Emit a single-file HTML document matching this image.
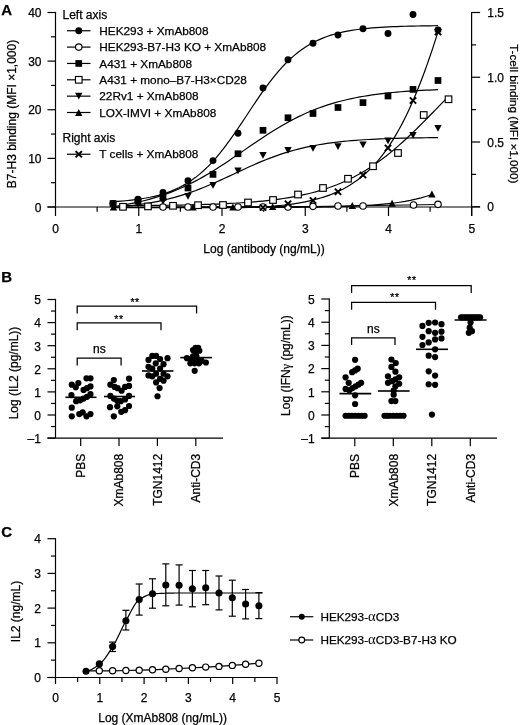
<!DOCTYPE html>
<html lang="en"><head><meta charset="utf-8"><title>Figure</title>
<style>
html,body{margin:0;padding:0;background:#fff;}
body{width:520px;height:725px;overflow:hidden;}
svg{display:block;font-family:"Liberation Sans",sans-serif;fill:#000;}
svg text{fill:#000;stroke:#000;stroke-width:0.25px;}
</style></head><body>
<svg width="520" height="725" viewBox="0 0 520 725">
<rect width="520" height="725" fill="#fff"/>
<text x="1.2" y="15.1" font-size="15" text-anchor="start" font-weight="bold" >A</text>
<line x1="55.5" y1="11.9" x2="55.5" y2="207" stroke="#000" stroke-width="1.2" />
<line x1="47.5" y1="207" x2="55.5" y2="207" stroke="#000" stroke-width="1.2" />
<line x1="51" y1="182.69" x2="55.5" y2="182.69" stroke="#000" stroke-width="1.2" />
<line x1="47.5" y1="158.38" x2="55.5" y2="158.38" stroke="#000" stroke-width="1.2" />
<line x1="51" y1="134.06" x2="55.5" y2="134.06" stroke="#000" stroke-width="1.2" />
<line x1="47.5" y1="109.75" x2="55.5" y2="109.75" stroke="#000" stroke-width="1.2" />
<line x1="51" y1="85.44" x2="55.5" y2="85.44" stroke="#000" stroke-width="1.2" />
<line x1="47.5" y1="61.12" x2="55.5" y2="61.12" stroke="#000" stroke-width="1.2" />
<line x1="51" y1="36.81" x2="55.5" y2="36.81" stroke="#000" stroke-width="1.2" />
<line x1="47.5" y1="12.5" x2="55.5" y2="12.5" stroke="#000" stroke-width="1.2" />
<text x="41.5" y="211.6" font-size="12" text-anchor="end" >0</text>
<text x="41.5" y="162.97" font-size="12" text-anchor="end" >10</text>
<text x="41.5" y="114.35" font-size="12" text-anchor="end" >20</text>
<text x="41.5" y="65.72" font-size="12" text-anchor="end" >30</text>
<text x="41.5" y="17.1" font-size="12" text-anchor="end" >40</text>
<line x1="47.5" y1="207" x2="480.1" y2="207" stroke="#000" stroke-width="1.2" />
<line x1="55.5" y1="207" x2="55.5" y2="216" stroke="#000" stroke-width="1.2" />
<line x1="97.12" y1="207" x2="97.12" y2="211.8" stroke="#000" stroke-width="1.2" />
<line x1="138.75" y1="207" x2="138.75" y2="216" stroke="#000" stroke-width="1.2" />
<line x1="180.38" y1="207" x2="180.38" y2="211.8" stroke="#000" stroke-width="1.2" />
<line x1="222" y1="207" x2="222" y2="216" stroke="#000" stroke-width="1.2" />
<line x1="263.62" y1="207" x2="263.62" y2="211.8" stroke="#000" stroke-width="1.2" />
<line x1="305.25" y1="207" x2="305.25" y2="216" stroke="#000" stroke-width="1.2" />
<line x1="346.88" y1="207" x2="346.88" y2="211.8" stroke="#000" stroke-width="1.2" />
<line x1="388.5" y1="207" x2="388.5" y2="216" stroke="#000" stroke-width="1.2" />
<line x1="430.12" y1="207" x2="430.12" y2="211.8" stroke="#000" stroke-width="1.2" />
<line x1="471.75" y1="207" x2="471.75" y2="216" stroke="#000" stroke-width="1.2" />
<text x="55.5" y="233.3" font-size="12" text-anchor="middle" >0</text>
<text x="138.75" y="233.3" font-size="12" text-anchor="middle" >1</text>
<text x="222" y="233.3" font-size="12" text-anchor="middle" >2</text>
<text x="305.25" y="233.3" font-size="12" text-anchor="middle" >3</text>
<text x="388.5" y="233.3" font-size="12" text-anchor="middle" >4</text>
<text x="471.75" y="233.3" font-size="12" text-anchor="middle" >5</text>
<text x="264" y="252.5" font-size="12" text-anchor="middle" >Log (antibody (ng/mL))</text>
<line x1="471.6" y1="11.9" x2="471.6" y2="216" stroke="#000" stroke-width="1.2" />
<line x1="471.6" y1="206.75" x2="480.1" y2="206.75" stroke="#000" stroke-width="1.2" />
<line x1="471.6" y1="174.38" x2="476.1" y2="174.38" stroke="#000" stroke-width="1.2" />
<line x1="471.6" y1="142" x2="480.1" y2="142" stroke="#000" stroke-width="1.2" />
<line x1="471.6" y1="109.62" x2="476.1" y2="109.62" stroke="#000" stroke-width="1.2" />
<line x1="471.6" y1="77.25" x2="480.1" y2="77.25" stroke="#000" stroke-width="1.2" />
<line x1="471.6" y1="44.88" x2="476.1" y2="44.88" stroke="#000" stroke-width="1.2" />
<line x1="471.6" y1="12.5" x2="480.1" y2="12.5" stroke="#000" stroke-width="1.2" />
<text x="487.3" y="211.45" font-size="12" text-anchor="start" >0</text>
<text x="487.3" y="146.7" font-size="12" text-anchor="start" >0.5</text>
<text x="487.3" y="81.95" font-size="12" text-anchor="start" >1.0</text>
<text x="487.3" y="17.2" font-size="12" text-anchor="start" >1.5</text>
<text x="15.8" y="114" font-size="12" text-anchor="middle" transform="rotate(-90 15.8 114)" >B7-H3 binding (MFI ×1,000)</text>
<text x="510.3" y="113.8" font-size="11.7" text-anchor="middle" transform="rotate(90 510.3 113.8)" >T-cell binding (MFI ×1,000)</text>
<path d="M113 201.68 L117.11 201.41 L121.23 201.09 L125.34 200.74 L129.46 200.33 L133.57 199.87 L137.68 199.33 L141.8 198.72 L145.91 198.03 L150.03 197.24 L154.14 196.33 L158.25 195.3 L162.37 194.14 L166.48 192.81 L170.59 191.32 L174.71 189.63 L178.82 187.73 L182.94 185.6 L187.05 183.21 L191.16 180.55 L195.28 177.61 L199.39 174.35 L203.51 170.77 L207.62 166.87 L211.73 162.62 L215.85 158.04 L219.96 153.14 L224.08 147.93 L228.19 142.44 L232.3 136.71 L236.42 130.77 L240.53 124.67 L244.65 118.48 L248.76 112.25 L252.87 106.04 L256.99 99.91 L261.1 93.92 L265.22 88.12 L269.33 82.56 L273.44 77.26 L277.56 72.27 L281.67 67.6 L285.78 63.26 L289.9 59.26 L294.01 55.59 L298.13 52.24 L302.24 49.2 L306.35 46.47 L310.47 44.01 L314.58 41.8 L318.7 39.84 L322.81 38.09 L326.92 36.54 L331.04 35.17 L335.15 33.96 L339.27 32.89 L343.38 31.96 L347.49 31.13 L351.61 30.41 L355.72 29.78 L359.84 29.23 L363.95 28.74 L368.06 28.32 L372.18 27.95 L376.29 27.63 L380.41 27.34 L384.52 27.1 L388.63 26.89 L392.75 26.7 L396.86 26.54 L400.97 26.4 L405.09 26.27 L409.2 26.17 L413.32 26.07 L417.43 25.99 L421.54 25.92 L425.66 25.86 L429.77 25.81 L433.89 25.76 L438 25.72" fill="none" stroke="#000" stroke-width="1.2" />
<path d="M113 206.59 L117.11 205.99 L121.23 205.35 L125.34 204.65 L129.46 203.89 L133.57 203.08 L137.68 202.2 L141.8 201.25 L145.91 200.23 L150.03 199.13 L154.14 197.95 L158.25 196.69 L162.37 195.35 L166.48 193.91 L170.59 192.38 L174.71 190.75 L178.82 189.03 L182.94 187.21 L187.05 185.28 L191.16 183.26 L195.28 181.15 L199.39 178.93 L203.51 176.62 L207.62 174.23 L211.73 171.75 L215.85 169.19 L219.96 166.57 L224.08 163.88 L228.19 161.14 L232.3 158.36 L236.42 155.55 L240.53 152.72 L244.65 149.88 L248.76 147.04 L252.87 144.22 L256.99 141.42 L261.1 138.66 L265.22 135.95 L269.33 133.29 L273.44 130.7 L277.56 128.18 L281.67 125.75 L285.78 123.4 L289.9 121.14 L294.01 118.97 L298.13 116.91 L302.24 114.94 L306.35 113.07 L310.47 111.3 L314.58 109.63 L318.7 108.05 L322.81 106.57 L326.92 105.18 L331.04 103.88 L335.15 102.66 L339.27 101.53 L343.38 100.47 L347.49 99.49 L351.61 98.57 L355.72 97.73 L359.84 96.94 L363.95 96.22 L368.06 95.55 L372.18 94.93 L376.29 94.36 L380.41 93.83 L384.52 93.35 L388.63 92.9 L392.75 92.49 L396.86 92.12 L400.97 91.77 L405.09 91.45 L409.2 91.16 L413.32 90.89 L417.43 90.65 L421.54 90.42 L425.66 90.21 L429.77 90.03 L433.89 89.85 L438 89.69" fill="none" stroke="#000" stroke-width="1.2" />
<path d="M113 207.33 L117.11 207 L121.23 206.63 L125.34 206.23 L129.46 205.78 L133.57 205.3 L137.68 204.77 L141.8 204.19 L145.91 203.55 L150.03 202.86 L154.14 202.11 L158.25 201.3 L162.37 200.42 L166.48 199.47 L170.59 198.44 L174.71 197.35 L178.82 196.17 L182.94 194.92 L187.05 193.59 L191.16 192.18 L195.28 190.7 L199.39 189.14 L203.51 187.51 L207.62 185.82 L211.73 184.07 L215.85 182.26 L219.96 180.41 L224.08 178.53 L228.19 176.62 L232.3 174.7 L236.42 172.77 L240.53 170.85 L244.65 168.94 L248.76 167.06 L252.87 165.21 L256.99 163.42 L261.1 161.67 L265.22 159.99 L269.33 158.37 L273.44 156.82 L277.56 155.34 L281.67 153.94 L285.78 152.62 L289.9 151.38 L294.01 150.21 L298.13 149.12 L302.24 148.11 L306.35 147.17 L310.47 146.29 L314.58 145.49 L318.7 144.74 L322.81 144.06 L326.92 143.43 L331.04 142.86 L335.15 142.33 L339.27 141.85 L343.38 141.41 L347.49 141.01 L351.61 140.65 L355.72 140.32 L359.84 140.02 L363.95 139.75 L368.06 139.5 L372.18 139.28 L376.29 139.08 L380.41 138.89 L384.52 138.73 L388.63 138.58 L392.75 138.44 L396.86 138.32 L400.97 138.21 L405.09 138.11 L409.2 138.02 L413.32 137.94 L417.43 137.87 L421.54 137.8 L425.66 137.74 L429.77 137.69 L433.89 137.64 L438 137.59" fill="none" stroke="#000" stroke-width="1.2" />
<path d="M123 205.69 L127.11 205.66 L131.23 205.64 L135.34 205.61 L139.46 205.58 L143.57 205.54 L147.68 205.51 L151.8 205.47 L155.91 205.42 L160.03 205.38 L164.14 205.32 L168.25 205.27 L172.37 205.2 L176.48 205.14 L180.59 205.06 L184.71 204.98 L188.82 204.9 L192.94 204.8 L197.05 204.7 L201.16 204.59 L205.28 204.46 L209.39 204.33 L213.51 204.18 L217.62 204.03 L221.73 203.85 L225.85 203.67 L229.96 203.46 L234.08 203.24 L238.19 203 L242.3 202.74 L246.42 202.45 L250.53 202.14 L254.65 201.81 L258.76 201.44 L262.87 201.05 L266.99 200.62 L271.1 200.15 L275.22 199.64 L279.33 199.09 L283.44 198.5 L287.56 197.85 L291.67 197.15 L295.78 196.4 L299.9 195.58 L304.01 194.7 L308.13 193.75 L312.24 192.72 L316.35 191.61 L320.47 190.42 L324.58 189.14 L328.7 187.76 L332.81 186.28 L336.92 184.7 L341.04 183.01 L345.15 181.2 L349.27 179.27 L353.38 177.21 L357.49 175.03 L361.61 172.71 L365.72 170.26 L369.84 167.67 L373.95 164.93 L378.06 162.06 L382.18 159.05 L386.29 155.9 L390.41 152.61 L394.52 149.19 L398.63 145.64 L402.75 141.97 L406.86 138.19 L410.97 134.31 L415.09 130.34 L419.2 126.28 L423.32 122.17 L427.43 118 L431.54 113.79 L435.66 109.56 L439.77 105.32 L443.89 101.09 L448 96.89" fill="none" stroke="#000" stroke-width="1.2" />
<path d="M263 207 L265.22 206.85 L267.43 206.68 L269.65 206.51 L271.86 206.33 L274.08 206.14 L276.29 205.93 L278.51 205.72 L280.72 205.49 L282.94 205.24 L285.15 204.98 L287.37 204.71 L289.58 204.42 L291.8 204.12 L294.01 203.79 L296.23 203.45 L298.44 203.08 L300.66 202.7 L302.87 202.29 L305.09 201.86 L307.3 201.4 L309.52 200.91 L311.73 200.4 L313.95 199.86 L316.16 199.28 L318.38 198.68 L320.59 198.03 L322.81 197.35 L325.03 196.63 L327.24 195.87 L329.46 195.07 L331.67 194.22 L333.89 193.32 L336.1 192.37 L338.32 191.37 L340.53 190.31 L342.75 189.19 L344.96 188.01 L347.18 186.76 L349.39 185.44 L351.61 184.05 L353.82 182.59 L356.04 181.05 L358.25 179.42 L360.47 177.7 L362.68 175.9 L364.9 174 L367.11 172 L369.33 169.89 L371.54 167.68 L373.76 165.36 L375.97 162.91 L378.19 160.35 L380.41 157.66 L382.62 154.84 L384.84 151.88 L387.05 148.79 L389.27 145.55 L391.48 142.16 L393.7 138.62 L395.91 134.92 L398.13 131.06 L400.34 127.04 L402.56 122.85 L404.77 118.48 L406.99 113.95 L409.2 109.24 L411.42 104.35 L413.63 99.28 L415.85 94.03 L418.06 88.6 L420.28 82.99 L422.49 77.21 L424.71 71.24 L426.92 65.11 L429.14 58.8 L431.35 52.32 L433.57 45.68 L435.78 38.89 L438 31.95" fill="none" stroke="#000" stroke-width="1.2" />
<path d="M163 207 L313 206.5 L438 204.5" fill="none" stroke="#000" stroke-width="1.2" />
<path d="M113.5 207.6 L118.9 207.6 L124.29 207.6 L129.69 207.6 L135.09 207.6 L140.48 207.6 L145.88 207.6 L151.28 207.59 L156.67 207.59 L162.07 207.59 L167.47 207.59 L172.86 207.59 L178.26 207.59 L183.66 207.59 L189.05 207.58 L194.45 207.58 L199.85 207.58 L205.24 207.58 L210.64 207.57 L216.04 207.57 L221.43 207.56 L226.83 207.55 L232.23 207.55 L237.62 207.54 L243.02 207.53 L248.42 207.52 L253.81 207.5 L259.21 207.49 L264.61 207.47 L270 207.45 L275.4 207.43 L280.79 207.4 L286.19 207.37 L291.59 207.33 L296.98 207.29 L302.38 207.23 L307.78 207.18 L313.17 207.11 L318.57 207.03 L323.97 206.94 L329.36 206.83 L334.76 206.71 L340.16 206.56 L345.55 206.39 L350.95 206.2 L356.35 205.97 L361.74 205.71 L367.14 205.41 L372.54 205.06 L377.93 204.65 L383.33 204.17 L388.73 203.62 L394.12 202.98 L399.52 202.23 L404.92 201.37 L410.31 200.37 L415.71 199.2 L421.11 197.85 L426.5 196.28 L431.9 194.46" fill="none" stroke="#000" stroke-width="1.2" />
<circle cx="113" cy="203.75" r="3.45" fill="#000"/>
<circle cx="138" cy="199.25" r="3.45" fill="#000"/>
<circle cx="163" cy="192.5" r="3.45" fill="#000"/>
<circle cx="188" cy="180.75" r="3.45" fill="#000"/>
<circle cx="213" cy="160.6" r="3.45" fill="#000"/>
<circle cx="238" cy="133.25" r="3.45" fill="#000"/>
<circle cx="263" cy="88" r="3.45" fill="#000"/>
<circle cx="288" cy="59.75" r="3.45" fill="#000"/>
<circle cx="313" cy="43.25" r="3.45" fill="#000"/>
<circle cx="338" cy="35" r="3.45" fill="#000"/>
<circle cx="363" cy="28.75" r="3.45" fill="#000"/>
<circle cx="388" cy="33.5" r="3.45" fill="#000"/>
<circle cx="413" cy="14.5" r="3.45" fill="#000"/>
<circle cx="438" cy="30" r="3.45" fill="#000"/>
<polygon points="109.8,210.4 117.2,210.4 113.5,203.6" fill="#000"/>
<polygon points="189.4,210.4 196.8,210.4 193.1,203.6" fill="#000"/>
<polygon points="229.2,210.4 236.6,210.4 232.9,203.6" fill="#000"/>
<polygon points="269,210.1 276.4,210.1 272.7,203.3" fill="#000"/>
<polygon points="348.6,208.9 356,208.9 352.3,202.1" fill="#000"/>
<polygon points="388.4,206.65 395.8,206.65 392.1,199.85" fill="#000"/>
<polygon points="428.2,197.4 435.6,197.4 431.9,190.6" fill="#000"/>
<circle cx="163" cy="207" r="3.25" fill="#fff" stroke="#000" stroke-width="1.15"/>
<circle cx="188" cy="207" r="3.25" fill="#fff" stroke="#000" stroke-width="1.15"/>
<circle cx="213" cy="207" r="3.25" fill="#fff" stroke="#000" stroke-width="1.15"/>
<circle cx="238" cy="207" r="3.25" fill="#fff" stroke="#000" stroke-width="1.15"/>
<circle cx="263" cy="207" r="3.25" fill="#fff" stroke="#000" stroke-width="1.15"/>
<circle cx="288" cy="207" r="3.25" fill="#fff" stroke="#000" stroke-width="1.15"/>
<circle cx="313" cy="206.3" r="3.25" fill="#fff" stroke="#000" stroke-width="1.15"/>
<circle cx="338" cy="206" r="3.25" fill="#fff" stroke="#000" stroke-width="1.15"/>
<circle cx="363" cy="206" r="3.25" fill="#fff" stroke="#000" stroke-width="1.15"/>
<circle cx="413.5" cy="205" r="3.25" fill="#fff" stroke="#000" stroke-width="1.15"/>
<circle cx="438" cy="204.3" r="3.25" fill="#fff" stroke="#000" stroke-width="1.15"/>
<rect x="109.65" y="200.15" width="6.7" height="6.7" fill="#000"/>
<rect x="134.65" y="197.65" width="6.7" height="6.7" fill="#000"/>
<rect x="159.65" y="194.15" width="6.7" height="6.7" fill="#000"/>
<rect x="184.65" y="184.65" width="6.7" height="6.7" fill="#000"/>
<rect x="209.65" y="171.05" width="6.7" height="6.7" fill="#000"/>
<rect x="234.65" y="150.4" width="6.7" height="6.7" fill="#000"/>
<rect x="259.65" y="126.95" width="6.7" height="6.7" fill="#000"/>
<rect x="284.65" y="114.4" width="6.7" height="6.7" fill="#000"/>
<rect x="309.65" y="110.15" width="6.7" height="6.7" fill="#000"/>
<rect x="334.65" y="104.15" width="6.7" height="6.7" fill="#000"/>
<rect x="359.65" y="99.25" width="6.7" height="6.7" fill="#000"/>
<rect x="384.65" y="92.65" width="6.7" height="6.7" fill="#000"/>
<rect x="409.65" y="86.05" width="6.7" height="6.7" fill="#000"/>
<rect x="434.65" y="77.15" width="6.7" height="6.7" fill="#000"/>
<rect x="119.7" y="203.5" width="6.6" height="6.6" fill="#fff" stroke="#000" stroke-width="1.15"/>
<rect x="144.7" y="203.1" width="6.6" height="6.6" fill="#fff" stroke="#000" stroke-width="1.15"/>
<rect x="169.7" y="202.5" width="6.6" height="6.6" fill="#fff" stroke="#000" stroke-width="1.15"/>
<rect x="194.7" y="201.9" width="6.6" height="6.6" fill="#fff" stroke="#000" stroke-width="1.15"/>
<rect x="219.7" y="201.7" width="6.6" height="6.6" fill="#fff" stroke="#000" stroke-width="1.15"/>
<rect x="244.7" y="199.2" width="6.6" height="6.6" fill="#fff" stroke="#000" stroke-width="1.15"/>
<rect x="269.7" y="196.7" width="6.6" height="6.6" fill="#fff" stroke="#000" stroke-width="1.15"/>
<rect x="294.7" y="191.2" width="6.6" height="6.6" fill="#fff" stroke="#000" stroke-width="1.15"/>
<rect x="319.7" y="184.7" width="6.6" height="6.6" fill="#fff" stroke="#000" stroke-width="1.15"/>
<rect x="344.7" y="175.45" width="6.6" height="6.6" fill="#fff" stroke="#000" stroke-width="1.15"/>
<rect x="369.7" y="162.95" width="6.6" height="6.6" fill="#fff" stroke="#000" stroke-width="1.15"/>
<rect x="394.7" y="149.7" width="6.6" height="6.6" fill="#fff" stroke="#000" stroke-width="1.15"/>
<rect x="420.4" y="111.7" width="6.6" height="6.6" fill="#fff" stroke="#000" stroke-width="1.15"/>
<rect x="445.2" y="95.95" width="6.6" height="6.6" fill="#fff" stroke="#000" stroke-width="1.15"/>
<polygon points="109.3,202.5 116.7,202.5 113,209.3" fill="#000"/>
<polygon points="134.3,201 141.7,201 138,207.8" fill="#000"/>
<polygon points="159.3,198 166.7,198 163,204.8" fill="#000"/>
<polygon points="184.3,193 191.7,193 188,199.8" fill="#000"/>
<polygon points="209.3,182 216.7,182 213,188.8" fill="#000"/>
<polygon points="234.3,167.5 241.7,167.5 238,174.3" fill="#000"/>
<polygon points="259.3,152 266.7,152 263,158.8" fill="#000"/>
<polygon points="284.3,147 291.7,147 288,153.8" fill="#000"/>
<polygon points="309.3,145 316.7,145 313,151.8" fill="#000"/>
<polygon points="334.3,143.25 341.7,143.25 338,150.05" fill="#000"/>
<polygon points="359.3,141.5 366.7,141.5 363,148.3" fill="#000"/>
<polygon points="384.3,137.5 391.7,137.5 388,144.3" fill="#000"/>
<polygon points="409.3,132 416.7,132 413,138.8" fill="#000"/>
<polygon points="434.3,125 441.7,125 438,131.8" fill="#000"/>
<path d="M259.85 204.35 L266.15 210.65 M259.85 210.65 L266.15 204.35" stroke="#000" stroke-width="2.05" fill="none"/>
<path d="M284.85 200.6 L291.15 206.9 M284.85 206.9 L291.15 200.6" stroke="#000" stroke-width="2.05" fill="none"/>
<path d="M309.85 197.35 L316.15 203.65 M309.85 203.65 L316.15 197.35" stroke="#000" stroke-width="2.05" fill="none"/>
<path d="M334.85 188.6 L341.15 194.9 M334.85 194.9 L341.15 188.6" stroke="#000" stroke-width="2.05" fill="none"/>
<path d="M359.85 171.85 L366.15 178.15 M359.85 178.15 L366.15 171.85" stroke="#000" stroke-width="2.05" fill="none"/>
<path d="M384.85 144.85 L391.15 151.15 M384.85 151.15 L391.15 144.85" stroke="#000" stroke-width="2.05" fill="none"/>
<path d="M409.85 97.35 L416.15 103.65 M409.85 103.65 L416.15 97.35" stroke="#000" stroke-width="2.05" fill="none"/>
<path d="M434.85 28.85 L441.15 35.15 M434.85 35.15 L441.15 28.85" stroke="#000" stroke-width="2.05" fill="none"/>
<text x="62.5" y="18.7" font-size="12" text-anchor="start" >Left axis</text>
<line x1="67" y1="30.75" x2="90.5" y2="30.75" stroke="#000" stroke-width="1.2" />
<circle cx="78.75" cy="30.75" r="3.45" fill="#000"/>
<text x="99.3" y="35.05" font-size="11.8" text-anchor="start" >HEK293 + XmAb808</text>
<line x1="67" y1="47.1" x2="90.5" y2="47.1" stroke="#000" stroke-width="1.2" />
<circle cx="78.75" cy="47.1" r="3.25" fill="#fff" stroke="#000" stroke-width="1.15"/>
<text x="99.3" y="51.4" font-size="11.8" text-anchor="start" >HEK293-B7-H3 KO + XmAb808</text>
<line x1="67" y1="63.45" x2="90.5" y2="63.45" stroke="#000" stroke-width="1.2" />
<rect x="75.4" y="60.1" width="6.7" height="6.7" fill="#000"/>
<text x="99.3" y="67.75" font-size="11.8" text-anchor="start" >A431 + XmAb808</text>
<line x1="67" y1="79.8" x2="90.5" y2="79.8" stroke="#000" stroke-width="1.2" />
<rect x="75.45" y="76.5" width="6.6" height="6.6" fill="#fff" stroke="#000" stroke-width="1.15"/>
<text x="99.3" y="84.1" font-size="11.8" text-anchor="start" >A431 + mono–B7-H3×CD28</text>
<line x1="67" y1="96.15" x2="90.5" y2="96.15" stroke="#000" stroke-width="1.2" />
<polygon points="75.05,92.75 82.45,92.75 78.75,99.55" fill="#000"/>
<text x="99.3" y="100.45" font-size="11.8" text-anchor="start" >22Rv1 + XmAb808</text>
<line x1="67" y1="112.5" x2="90.5" y2="112.5" stroke="#000" stroke-width="1.2" />
<polygon points="75.05,115.9 82.45,115.9 78.75,109.1" fill="#000"/>
<text x="99.3" y="116.8" font-size="11.8" text-anchor="start" >LOX-IMVI + XmAb808</text>
<text x="62.5" y="141.7" font-size="12" text-anchor="start" >Right axis</text>
<line x1="67" y1="154.25" x2="90.5" y2="154.25" stroke="#000" stroke-width="1.2" />
<path d="M75.6 151.1 L81.9 157.4 M75.6 157.4 L81.9 151.1" stroke="#000" stroke-width="2.05" fill="none"/>
<text x="99.3" y="158.4" font-size="11.8" text-anchor="start" >T cells + XmAb808</text>
<text x="1.2" y="282.3" font-size="15" text-anchor="start" font-weight="bold" >B</text>
<line x1="55.5" y1="298.9" x2="55.5" y2="438.1" stroke="#000" stroke-width="1.2" />
<line x1="47.5" y1="438.1" x2="55.5" y2="438.1" stroke="#000" stroke-width="1.2" />
<line x1="51" y1="426.55" x2="55.5" y2="426.55" stroke="#000" stroke-width="1.2" />
<line x1="47.5" y1="415" x2="55.5" y2="415" stroke="#000" stroke-width="1.2" />
<line x1="51" y1="403.45" x2="55.5" y2="403.45" stroke="#000" stroke-width="1.2" />
<line x1="47.5" y1="391.9" x2="55.5" y2="391.9" stroke="#000" stroke-width="1.2" />
<line x1="51" y1="380.35" x2="55.5" y2="380.35" stroke="#000" stroke-width="1.2" />
<line x1="47.5" y1="368.8" x2="55.5" y2="368.8" stroke="#000" stroke-width="1.2" />
<line x1="51" y1="357.25" x2="55.5" y2="357.25" stroke="#000" stroke-width="1.2" />
<line x1="47.5" y1="345.7" x2="55.5" y2="345.7" stroke="#000" stroke-width="1.2" />
<line x1="51" y1="334.15" x2="55.5" y2="334.15" stroke="#000" stroke-width="1.2" />
<line x1="47.5" y1="322.6" x2="55.5" y2="322.6" stroke="#000" stroke-width="1.2" />
<line x1="51" y1="311.05" x2="55.5" y2="311.05" stroke="#000" stroke-width="1.2" />
<line x1="47.5" y1="299.5" x2="55.5" y2="299.5" stroke="#000" stroke-width="1.2" />
<text x="40.9" y="442.9" font-size="12" text-anchor="end" >–1</text>
<text x="40.9" y="419.8" font-size="12" text-anchor="end" >0</text>
<text x="40.9" y="396.7" font-size="12" text-anchor="end" >1</text>
<text x="40.9" y="373.6" font-size="12" text-anchor="end" >2</text>
<text x="40.9" y="350.5" font-size="12" text-anchor="end" >3</text>
<text x="40.9" y="327.4" font-size="12" text-anchor="end" >4</text>
<text x="40.9" y="304.3" font-size="12" text-anchor="end" >5</text>
<line x1="47.5" y1="438.1" x2="223" y2="438.1" stroke="#000" stroke-width="1.2" />
<line x1="80.7" y1="438.1" x2="80.7" y2="446.1" stroke="#000" stroke-width="1.2" />
<text x="85" y="453.8" font-size="12" text-anchor="end" transform="rotate(-90 85 453.8)" >PBS</text>
<line x1="119" y1="438.1" x2="119" y2="446.1" stroke="#000" stroke-width="1.2" />
<text x="123.3" y="453.8" font-size="12" text-anchor="end" transform="rotate(-90 123.3 453.8)" >XmAb808</text>
<line x1="157.4" y1="438.1" x2="157.4" y2="446.1" stroke="#000" stroke-width="1.2" />
<text x="161.7" y="453.8" font-size="12" text-anchor="end" transform="rotate(-90 161.7 453.8)" >TGN1412</text>
<line x1="195.8" y1="438.1" x2="195.8" y2="446.1" stroke="#000" stroke-width="1.2" />
<text x="200.1" y="453.8" font-size="12" text-anchor="end" transform="rotate(-90 200.1 453.8)" >Anti-CD3</text>
<text x="17.7" y="373" font-size="12" text-anchor="middle" transform="rotate(-90 17.7 373)" >Log (IL2 (pg/mL))</text>
<path d="M77.2 313.5 L77.2 306.2 L196.6 306.2 L196.6 313.5" fill="none" stroke="#000" stroke-width="1.25" />
<path d="M77.2 330.2 L77.2 322.9 L161 322.9 L161 330.2" fill="none" stroke="#000" stroke-width="1.25" />
<path d="M77.2 365.5 L77.2 358.2 L121.1 358.2 L121.1 365.5" fill="none" stroke="#000" stroke-width="1.25" />
<text x="99.3" y="352.6" font-size="12" text-anchor="middle" >ns</text>
<text x="135.1" y="306" font-size="10.5" text-anchor="middle" letter-spacing="0.6" stroke="none">**</text>
<text x="118.9" y="322.7" font-size="10.5" text-anchor="middle" letter-spacing="0.6" stroke="none">**</text>
<circle cx="71.78" cy="384.71" r="3.1" fill="#000"/>
<circle cx="78.36" cy="382.98" r="3.1" fill="#000"/>
<circle cx="75.76" cy="387.3" r="3.1" fill="#000"/>
<circle cx="86.49" cy="378.3" r="3.1" fill="#000"/>
<circle cx="90.47" cy="378.3" r="3.1" fill="#000"/>
<circle cx="90.47" cy="386.44" r="3.1" fill="#000"/>
<circle cx="87.01" cy="388.17" r="3.1" fill="#000"/>
<circle cx="83.55" cy="389.9" r="3.1" fill="#000"/>
<circle cx="71.44" cy="395.09" r="3.1" fill="#000"/>
<circle cx="90.47" cy="394.22" r="3.1" fill="#000"/>
<circle cx="87.01" cy="396.82" r="3.1" fill="#000"/>
<circle cx="83.55" cy="398.55" r="3.1" fill="#000"/>
<circle cx="80.09" cy="400.28" r="3.1" fill="#000"/>
<circle cx="76.11" cy="401.14" r="3.1" fill="#000"/>
<circle cx="71.78" cy="407.72" r="3.1" fill="#000"/>
<circle cx="71.78" cy="416.37" r="3.1" fill="#000"/>
<circle cx="79.22" cy="414.12" r="3.1" fill="#000"/>
<circle cx="82.68" cy="412.39" r="3.1" fill="#000"/>
<circle cx="86.49" cy="416.37" r="3.1" fill="#000"/>
<circle cx="90.47" cy="414.12" r="3.1" fill="#000"/>
<line x1="65.4" y1="397.3" x2="96.5" y2="397.3" stroke="#000" stroke-width="1.6" />
<circle cx="113.82" cy="380.03" r="3.1" fill="#000"/>
<circle cx="129.05" cy="378.65" r="3.1" fill="#000"/>
<circle cx="110.36" cy="384.71" r="3.1" fill="#000"/>
<circle cx="114.69" cy="386.96" r="3.1" fill="#000"/>
<circle cx="117.63" cy="388.17" r="3.1" fill="#000"/>
<circle cx="121.61" cy="390.76" r="3.1" fill="#000"/>
<circle cx="125.07" cy="386.96" r="3.1" fill="#000"/>
<circle cx="129.05" cy="385.92" r="3.1" fill="#000"/>
<circle cx="110.36" cy="395.95" r="3.1" fill="#000"/>
<circle cx="113.82" cy="398.55" r="3.1" fill="#000"/>
<circle cx="117.28" cy="400.8" r="3.1" fill="#000"/>
<circle cx="120.74" cy="401.14" r="3.1" fill="#000"/>
<circle cx="125.07" cy="399.41" r="3.1" fill="#000"/>
<circle cx="129.05" cy="395.95" r="3.1" fill="#000"/>
<circle cx="110.02" cy="407.2" r="3.1" fill="#000"/>
<circle cx="117.28" cy="406.33" r="3.1" fill="#000"/>
<circle cx="129.05" cy="405.99" r="3.1" fill="#000"/>
<circle cx="125.07" cy="410.14" r="3.1" fill="#000"/>
<circle cx="121.26" cy="411.87" r="3.1" fill="#000"/>
<circle cx="113.82" cy="416.37" r="3.1" fill="#000"/>
<line x1="104" y1="396.5" x2="135" y2="396.5" stroke="#000" stroke-width="1.6" />
<circle cx="152.3" cy="355.92" r="3.1" fill="#000"/>
<circle cx="156.11" cy="355.92" r="3.1" fill="#000"/>
<circle cx="148.49" cy="359.9" r="3.1" fill="#000"/>
<circle cx="160.09" cy="359.03" r="3.1" fill="#000"/>
<circle cx="167.53" cy="358.17" r="3.1" fill="#000"/>
<circle cx="155.76" cy="363.36" r="3.1" fill="#000"/>
<circle cx="163.55" cy="364.22" r="3.1" fill="#000"/>
<circle cx="148.49" cy="366.82" r="3.1" fill="#000"/>
<circle cx="152.3" cy="368.55" r="3.1" fill="#000"/>
<circle cx="160.09" cy="368.55" r="3.1" fill="#000"/>
<circle cx="148.49" cy="375.47" r="3.1" fill="#000"/>
<circle cx="152.3" cy="376.33" r="3.1" fill="#000"/>
<circle cx="156.11" cy="373.74" r="3.1" fill="#000"/>
<circle cx="163.55" cy="373.74" r="3.1" fill="#000"/>
<circle cx="167.53" cy="376.33" r="3.1" fill="#000"/>
<circle cx="160.09" cy="378.93" r="3.1" fill="#000"/>
<circle cx="163.55" cy="380.66" r="3.1" fill="#000"/>
<circle cx="156.11" cy="382.39" r="3.1" fill="#000"/>
<circle cx="159.57" cy="388.1" r="3.1" fill="#000"/>
<circle cx="157.49" cy="396.23" r="3.1" fill="#000"/>
<line x1="142" y1="371" x2="173.4" y2="371" stroke="#000" stroke-width="1.6" />
<circle cx="195.55" cy="347.79" r="3.1" fill="#000"/>
<circle cx="198.15" cy="347.79" r="3.1" fill="#000"/>
<circle cx="192.96" cy="350.03" r="3.1" fill="#000"/>
<circle cx="199.36" cy="350.73" r="3.1" fill="#000"/>
<circle cx="195.55" cy="352.98" r="3.1" fill="#000"/>
<circle cx="186.9" cy="358.17" r="3.1" fill="#000"/>
<circle cx="190.36" cy="359.03" r="3.1" fill="#000"/>
<circle cx="194.69" cy="359.9" r="3.1" fill="#000"/>
<circle cx="198.15" cy="359.9" r="3.1" fill="#000"/>
<circle cx="201.61" cy="360.76" r="3.1" fill="#000"/>
<circle cx="205.93" cy="362.49" r="3.1" fill="#000"/>
<circle cx="190.36" cy="363.36" r="3.1" fill="#000"/>
<circle cx="194.69" cy="363.36" r="3.1" fill="#000"/>
<circle cx="199.01" cy="363.36" r="3.1" fill="#000"/>
<circle cx="194.69" cy="370.8" r="3.1" fill="#000"/>
<circle cx="196.42" cy="356.44" r="3.1" fill="#000"/>
<circle cx="192.96" cy="356.44" r="3.1" fill="#000"/>
<line x1="180.3" y1="357.6" x2="212" y2="357.6" stroke="#000" stroke-width="1.6" />
<line x1="329.3" y1="298.4" x2="329.3" y2="438.2" stroke="#000" stroke-width="1.2" />
<line x1="321.3" y1="438.2" x2="329.3" y2="438.2" stroke="#000" stroke-width="1.2" />
<line x1="324.8" y1="426.6" x2="329.3" y2="426.6" stroke="#000" stroke-width="1.2" />
<line x1="321.3" y1="415" x2="329.3" y2="415" stroke="#000" stroke-width="1.2" />
<line x1="324.8" y1="403.4" x2="329.3" y2="403.4" stroke="#000" stroke-width="1.2" />
<line x1="321.3" y1="391.8" x2="329.3" y2="391.8" stroke="#000" stroke-width="1.2" />
<line x1="324.8" y1="380.2" x2="329.3" y2="380.2" stroke="#000" stroke-width="1.2" />
<line x1="321.3" y1="368.6" x2="329.3" y2="368.6" stroke="#000" stroke-width="1.2" />
<line x1="324.8" y1="357" x2="329.3" y2="357" stroke="#000" stroke-width="1.2" />
<line x1="321.3" y1="345.4" x2="329.3" y2="345.4" stroke="#000" stroke-width="1.2" />
<line x1="324.8" y1="333.8" x2="329.3" y2="333.8" stroke="#000" stroke-width="1.2" />
<line x1="321.3" y1="322.2" x2="329.3" y2="322.2" stroke="#000" stroke-width="1.2" />
<line x1="324.8" y1="310.6" x2="329.3" y2="310.6" stroke="#000" stroke-width="1.2" />
<line x1="321.3" y1="299" x2="329.3" y2="299" stroke="#000" stroke-width="1.2" />
<text x="314.7" y="443" font-size="12" text-anchor="end" >–1</text>
<text x="314.7" y="419.8" font-size="12" text-anchor="end" >0</text>
<text x="314.7" y="396.6" font-size="12" text-anchor="end" >1</text>
<text x="314.7" y="373.4" font-size="12" text-anchor="end" >2</text>
<text x="314.7" y="350.2" font-size="12" text-anchor="end" >3</text>
<text x="314.7" y="327" font-size="12" text-anchor="end" >4</text>
<text x="314.7" y="303.8" font-size="12" text-anchor="end" >5</text>
<line x1="321.3" y1="438.2" x2="497" y2="438.2" stroke="#000" stroke-width="1.2" />
<line x1="354.8" y1="438.2" x2="354.8" y2="446.2" stroke="#000" stroke-width="1.2" />
<text x="359.1" y="453.9" font-size="12" text-anchor="end" transform="rotate(-90 359.1 453.9)" >PBS</text>
<line x1="393.3" y1="438.2" x2="393.3" y2="446.2" stroke="#000" stroke-width="1.2" />
<text x="397.6" y="453.9" font-size="12" text-anchor="end" transform="rotate(-90 397.6 453.9)" >XmAb808</text>
<line x1="431.8" y1="438.2" x2="431.8" y2="446.2" stroke="#000" stroke-width="1.2" />
<text x="436.1" y="453.9" font-size="12" text-anchor="end" transform="rotate(-90 436.1 453.9)" >TGN1412</text>
<line x1="470.3" y1="438.2" x2="470.3" y2="446.2" stroke="#000" stroke-width="1.2" />
<text x="474.6" y="453.9" font-size="12" text-anchor="end" transform="rotate(-90 474.6 453.9)" >Anti-CD3</text>
<text x="290.3" y="365.6" font-size="12" text-anchor="middle" transform="rotate(-90 290.3 365.6)" >Log (IFN<tspan font-family="'Liberation Serif', serif">γ</tspan> (pg/mL))</text>
<path d="M351.6 292.9 L351.6 285.6 L471.2 285.6 L471.2 292.9" fill="none" stroke="#000" stroke-width="1.25" />
<path d="M351.6 309.7 L351.6 302.4 L435.5 302.4 L435.5 309.7" fill="none" stroke="#000" stroke-width="1.25" />
<path d="M351.6 345.1 L351.6 337.8 L395 337.8 L395 345.1" fill="none" stroke="#000" stroke-width="1.25" />
<text x="373.3" y="332.6" font-size="12" text-anchor="middle" >ns</text>
<text x="411.9" y="284.3" font-size="10.5" text-anchor="middle" letter-spacing="0.6" stroke="none">**</text>
<text x="394.9" y="301" font-size="10.5" text-anchor="middle" letter-spacing="0.6" stroke="none">**</text>
<circle cx="355.09" cy="359.86" r="3.1" fill="#000"/>
<circle cx="357.68" cy="368.69" r="3.1" fill="#000"/>
<circle cx="355.09" cy="370.42" r="3.1" fill="#000"/>
<circle cx="352.15" cy="372.15" r="3.1" fill="#000"/>
<circle cx="345.57" cy="377.34" r="3.1" fill="#000"/>
<circle cx="348.69" cy="382.87" r="3.1" fill="#000"/>
<circle cx="361.14" cy="382.87" r="3.1" fill="#000"/>
<circle cx="358.55" cy="384.6" r="3.1" fill="#000"/>
<circle cx="355.61" cy="386.33" r="3.1" fill="#000"/>
<circle cx="352.49" cy="388.06" r="3.1" fill="#000"/>
<circle cx="345.57" cy="388.93" r="3.1" fill="#000"/>
<circle cx="349.38" cy="390.14" r="3.1" fill="#000"/>
<circle cx="355.09" cy="395.33" r="3.1" fill="#000"/>
<circle cx="355.09" cy="403.98" r="3.1" fill="#000"/>
<circle cx="345.57" cy="415.74" r="3.1" fill="#000"/>
<circle cx="348.69" cy="415.74" r="3.1" fill="#000"/>
<circle cx="351.8" cy="415.74" r="3.1" fill="#000"/>
<circle cx="355.09" cy="415.74" r="3.1" fill="#000"/>
<circle cx="358.55" cy="415.74" r="3.1" fill="#000"/>
<circle cx="361.49" cy="415.74" r="3.1" fill="#000"/>
<circle cx="364.6" cy="415.74" r="3.1" fill="#000"/>
<line x1="339.5" y1="393.6" x2="371.2" y2="393.6" stroke="#000" stroke-width="1.6" />
<circle cx="391.42" cy="359.52" r="3.1" fill="#000"/>
<circle cx="395.74" cy="362.98" r="3.1" fill="#000"/>
<circle cx="391.42" cy="366.96" r="3.1" fill="#000"/>
<circle cx="395.4" cy="371.63" r="3.1" fill="#000"/>
<circle cx="387.96" cy="376.3" r="3.1" fill="#000"/>
<circle cx="399.2" cy="377.34" r="3.1" fill="#000"/>
<circle cx="395.4" cy="379.41" r="3.1" fill="#000"/>
<circle cx="391.94" cy="381.14" r="3.1" fill="#000"/>
<circle cx="387.96" cy="382.87" r="3.1" fill="#000"/>
<circle cx="399.2" cy="383.74" r="3.1" fill="#000"/>
<circle cx="395.4" cy="386.33" r="3.1" fill="#000"/>
<circle cx="393.67" cy="390.66" r="3.1" fill="#000"/>
<circle cx="393.67" cy="394.64" r="3.1" fill="#000"/>
<circle cx="391.42" cy="401.04" r="3.1" fill="#000"/>
<circle cx="395.4" cy="401.04" r="3.1" fill="#000"/>
<circle cx="384.5" cy="415.74" r="3.1" fill="#000"/>
<circle cx="387.09" cy="415.74" r="3.1" fill="#000"/>
<circle cx="389.69" cy="415.74" r="3.1" fill="#000"/>
<circle cx="393.15" cy="415.74" r="3.1" fill="#000"/>
<circle cx="396.61" cy="415.74" r="3.1" fill="#000"/>
<circle cx="400.07" cy="415.74" r="3.1" fill="#000"/>
<circle cx="403.53" cy="415.74" r="3.1" fill="#000"/>
<line x1="378" y1="391" x2="409.6" y2="391" stroke="#000" stroke-width="1.6" />
<circle cx="422.46" cy="325.95" r="3.1" fill="#000"/>
<circle cx="428.69" cy="322.84" r="3.1" fill="#000"/>
<circle cx="435.09" cy="322.49" r="3.1" fill="#000"/>
<circle cx="441.49" cy="324.22" r="3.1" fill="#000"/>
<circle cx="428.69" cy="331.14" r="3.1" fill="#000"/>
<circle cx="435.09" cy="332.87" r="3.1" fill="#000"/>
<circle cx="441.49" cy="331.66" r="3.1" fill="#000"/>
<circle cx="422.46" cy="336.85" r="3.1" fill="#000"/>
<circle cx="435.09" cy="339.45" r="3.1" fill="#000"/>
<circle cx="441.49" cy="338.41" r="3.1" fill="#000"/>
<circle cx="428.69" cy="342.39" r="3.1" fill="#000"/>
<circle cx="422.46" cy="344.98" r="3.1" fill="#000"/>
<circle cx="435.09" cy="349.31" r="3.1" fill="#000"/>
<circle cx="428.69" cy="355.71" r="3.1" fill="#000"/>
<circle cx="435.09" cy="357.09" r="3.1" fill="#000"/>
<circle cx="428.69" cy="371.28" r="3.1" fill="#000"/>
<circle cx="435.09" cy="375.61" r="3.1" fill="#000"/>
<circle cx="428.69" cy="384.26" r="3.1" fill="#000"/>
<circle cx="435.09" cy="384.78" r="3.1" fill="#000"/>
<circle cx="431.97" cy="414.53" r="3.1" fill="#000"/>
<line x1="416" y1="349.3" x2="448" y2="349.3" stroke="#000" stroke-width="1.6" />
<circle cx="461.04" cy="317.3" r="3.1" fill="#000"/>
<circle cx="462.94" cy="317.3" r="3.1" fill="#000"/>
<circle cx="464.84" cy="317.3" r="3.1" fill="#000"/>
<circle cx="466.75" cy="317.3" r="3.1" fill="#000"/>
<circle cx="468.65" cy="317.3" r="3.1" fill="#000"/>
<circle cx="470.55" cy="317.3" r="3.1" fill="#000"/>
<circle cx="472.46" cy="317.3" r="3.1" fill="#000"/>
<circle cx="474.36" cy="317.3" r="3.1" fill="#000"/>
<circle cx="476.26" cy="317.3" r="3.1" fill="#000"/>
<circle cx="478.17" cy="317.3" r="3.1" fill="#000"/>
<circle cx="480.07" cy="317.3" r="3.1" fill="#000"/>
<circle cx="470.55" cy="322.49" r="3.1" fill="#000"/>
<circle cx="469.69" cy="327.68" r="3.1" fill="#000"/>
<circle cx="471.94" cy="331.14" r="3.1" fill="#000"/>
<circle cx="468.82" cy="332.87" r="3.1" fill="#000"/>
<line x1="454.6" y1="320" x2="486.6" y2="320" stroke="#000" stroke-width="1.6" />
<text x="1.2" y="536.9" font-size="15" text-anchor="start" font-weight="bold" >C</text>
<line x1="55.5" y1="538.1" x2="55.5" y2="677.5" stroke="#000" stroke-width="1.2" />
<line x1="47.5" y1="677.5" x2="55.5" y2="677.5" stroke="#000" stroke-width="1.2" />
<line x1="51" y1="660.15" x2="55.5" y2="660.15" stroke="#000" stroke-width="1.2" />
<line x1="47.5" y1="642.8" x2="55.5" y2="642.8" stroke="#000" stroke-width="1.2" />
<line x1="51" y1="625.45" x2="55.5" y2="625.45" stroke="#000" stroke-width="1.2" />
<line x1="47.5" y1="608.1" x2="55.5" y2="608.1" stroke="#000" stroke-width="1.2" />
<line x1="51" y1="590.75" x2="55.5" y2="590.75" stroke="#000" stroke-width="1.2" />
<line x1="47.5" y1="573.4" x2="55.5" y2="573.4" stroke="#000" stroke-width="1.2" />
<line x1="51" y1="556.05" x2="55.5" y2="556.05" stroke="#000" stroke-width="1.2" />
<line x1="47.5" y1="538.7" x2="55.5" y2="538.7" stroke="#000" stroke-width="1.2" />
<text x="40.9" y="682" font-size="12" text-anchor="end" >0</text>
<text x="40.9" y="647.3" font-size="12" text-anchor="end" >1</text>
<text x="40.9" y="612.6" font-size="12" text-anchor="end" >2</text>
<text x="40.9" y="577.9" font-size="12" text-anchor="end" >3</text>
<text x="40.9" y="543.2" font-size="12" text-anchor="end" >4</text>
<line x1="47.5" y1="677.5" x2="277.6" y2="677.5" stroke="#000" stroke-width="1.2" />
<line x1="55.5" y1="677.5" x2="55.5" y2="684" stroke="#000" stroke-width="1.2" />
<line x1="77.65" y1="677.5" x2="77.65" y2="682" stroke="#000" stroke-width="1.2" />
<line x1="99.8" y1="677.5" x2="99.8" y2="684" stroke="#000" stroke-width="1.2" />
<line x1="121.95" y1="677.5" x2="121.95" y2="682" stroke="#000" stroke-width="1.2" />
<line x1="144.1" y1="677.5" x2="144.1" y2="684" stroke="#000" stroke-width="1.2" />
<line x1="166.25" y1="677.5" x2="166.25" y2="682" stroke="#000" stroke-width="1.2" />
<line x1="188.4" y1="677.5" x2="188.4" y2="684" stroke="#000" stroke-width="1.2" />
<line x1="210.55" y1="677.5" x2="210.55" y2="682" stroke="#000" stroke-width="1.2" />
<line x1="232.7" y1="677.5" x2="232.7" y2="684" stroke="#000" stroke-width="1.2" />
<line x1="254.85" y1="677.5" x2="254.85" y2="682" stroke="#000" stroke-width="1.2" />
<line x1="277" y1="677.5" x2="277" y2="684" stroke="#000" stroke-width="1.2" />
<text x="55.5" y="702.3" font-size="12" text-anchor="middle" >0</text>
<text x="99.8" y="702.3" font-size="12" text-anchor="middle" >1</text>
<text x="144.1" y="702.3" font-size="12" text-anchor="middle" >2</text>
<text x="188.4" y="702.3" font-size="12" text-anchor="middle" >3</text>
<text x="232.7" y="702.3" font-size="12" text-anchor="middle" >4</text>
<text x="277" y="702.3" font-size="12" text-anchor="middle" >5</text>
<text x="162.6" y="722.1" font-size="12" text-anchor="middle" >Log (XmAb808 (ng/mL))</text>
<text x="20.1" y="611.5" font-size="12" text-anchor="middle" transform="rotate(-90 20.1 611.5)" >IL2 (ng/mL)</text>
<path d="M86 671.3 L87.48 671.01 L88.97 670.55 L90.45 669.95 L91.93 669.22 L93.42 668.37 L94.9 667.44 L96.38 666.43 L97.87 665.37 L99.35 664.26 L100.83 663.01 L102.32 661.5 L103.8 659.77 L105.28 657.87 L106.76 655.81 L108.25 653.64 L109.73 651.38 L111.21 649.07 L112.7 646.75 L114.18 644.25 L115.66 641.51 L117.15 638.57 L118.63 635.51 L120.11 632.4 L121.6 629.29 L123.08 626.25 L124.56 623.35 L126.05 620.64 L127.53 617.94 L129.01 615.13 L130.5 612.3 L131.98 609.53 L133.46 606.91 L134.95 604.52 L136.43 602.45 L137.91 600.77 L139.39 599.57 L140.88 598.6 L142.36 597.71 L143.84 596.88 L145.33 596.14 L146.81 595.49 L148.29 594.94 L149.78 594.5 L151.26 594.18 L152.74 593.97 L154.23 593.83 L155.71 593.7 L157.19 593.59 L158.68 593.49 L160.16 593.41 L161.64 593.34 L163.13 593.28 L164.61 593.23 L166.09 593.19 L167.58 593.16 L169.06 593.12 L170.54 593.09 L172.03 593.07 L173.51 593.04 L174.99 593.02 L176.47 593.01 L177.96 593 L179.44 593 L180.92 593 L182.41 593 L183.89 593 L185.37 593 L186.86 593 L188.34 593 L189.82 593 L191.31 593 L192.79 593 L194.27 593 L195.76 593 L197.24 593 L198.72 593 L200.21 593 L201.69 593 L203.17 593 L204.66 593 L206.14 593 L207.62 593 L209.11 593 L210.59 593 L212.07 593 L213.55 593 L215.04 593 L216.52 593 L218 593 L219.49 593 L220.97 593 L222.45 593 L223.94 593 L225.42 593 L226.9 593 L228.39 593 L229.87 593 L231.35 593 L232.84 593 L234.32 593 L235.8 593 L237.29 593 L238.77 593 L240.25 593 L241.74 593 L243.22 593 L244.7 593 L246.18 593 L247.67 593 L249.15 593 L250.63 593 L252.12 593 L253.6 593 L255.08 593 L256.57 593 L258.05 593 L259.53 593 L261.02 593 L262.5 593" fill="none" stroke="#000" stroke-width="1.2" />
<path d="M86 670.8 L99.3 670.8 L112.6 670.8 L125.9 670.5 L139.2 670.2 L152.5 669.8 L165.8 669.2 L179.1 668.5 L192.4 667.8 L205.7 667.1 L219 666.4 L232.3 665.4 L245.6 664.3 L258.9 663.2" fill="none" stroke="#000" stroke-width="1.2" />
<line x1="112.6" y1="642.1" x2="112.6" y2="651.5" stroke="#000" stroke-width="1.2" />
<line x1="109.1" y1="642.1" x2="116.1" y2="642.1" stroke="#000" stroke-width="1.2" />
<line x1="109.1" y1="651.5" x2="116.1" y2="651.5" stroke="#000" stroke-width="1.2" />
<line x1="125.9" y1="610.3" x2="125.9" y2="630" stroke="#000" stroke-width="1.2" />
<line x1="122.4" y1="610.3" x2="129.4" y2="610.3" stroke="#000" stroke-width="1.2" />
<line x1="122.4" y1="630" x2="129.4" y2="630" stroke="#000" stroke-width="1.2" />
<line x1="139.2" y1="584" x2="139.2" y2="615.1" stroke="#000" stroke-width="1.2" />
<line x1="135.7" y1="584" x2="142.7" y2="584" stroke="#000" stroke-width="1.2" />
<line x1="135.7" y1="615.1" x2="142.7" y2="615.1" stroke="#000" stroke-width="1.2" />
<line x1="152.5" y1="578.8" x2="152.5" y2="608.2" stroke="#000" stroke-width="1.2" />
<line x1="149" y1="578.8" x2="156" y2="578.8" stroke="#000" stroke-width="1.2" />
<line x1="149" y1="608.2" x2="156" y2="608.2" stroke="#000" stroke-width="1.2" />
<line x1="165.8" y1="563.9" x2="165.8" y2="605.8" stroke="#000" stroke-width="1.2" />
<line x1="162.3" y1="563.9" x2="169.3" y2="563.9" stroke="#000" stroke-width="1.2" />
<line x1="162.3" y1="605.8" x2="169.3" y2="605.8" stroke="#000" stroke-width="1.2" />
<line x1="179.1" y1="564.9" x2="179.1" y2="605.1" stroke="#000" stroke-width="1.2" />
<line x1="175.6" y1="564.9" x2="182.6" y2="564.9" stroke="#000" stroke-width="1.2" />
<line x1="175.6" y1="605.1" x2="182.6" y2="605.1" stroke="#000" stroke-width="1.2" />
<line x1="192.4" y1="570.5" x2="192.4" y2="606.8" stroke="#000" stroke-width="1.2" />
<line x1="188.9" y1="570.5" x2="195.9" y2="570.5" stroke="#000" stroke-width="1.2" />
<line x1="188.9" y1="606.8" x2="195.9" y2="606.8" stroke="#000" stroke-width="1.2" />
<line x1="205.7" y1="570.5" x2="205.7" y2="604.7" stroke="#000" stroke-width="1.2" />
<line x1="202.2" y1="570.5" x2="209.2" y2="570.5" stroke="#000" stroke-width="1.2" />
<line x1="202.2" y1="604.7" x2="209.2" y2="604.7" stroke="#000" stroke-width="1.2" />
<line x1="219" y1="576" x2="219" y2="609.9" stroke="#000" stroke-width="1.2" />
<line x1="215.5" y1="576" x2="222.5" y2="576" stroke="#000" stroke-width="1.2" />
<line x1="215.5" y1="609.9" x2="222.5" y2="609.9" stroke="#000" stroke-width="1.2" />
<line x1="232.3" y1="580.2" x2="232.3" y2="616.2" stroke="#000" stroke-width="1.2" />
<line x1="228.8" y1="580.2" x2="235.8" y2="580.2" stroke="#000" stroke-width="1.2" />
<line x1="228.8" y1="616.2" x2="235.8" y2="616.2" stroke="#000" stroke-width="1.2" />
<line x1="245.6" y1="589.5" x2="245.6" y2="618.9" stroke="#000" stroke-width="1.2" />
<line x1="242.1" y1="589.5" x2="249.1" y2="589.5" stroke="#000" stroke-width="1.2" />
<line x1="242.1" y1="618.9" x2="249.1" y2="618.9" stroke="#000" stroke-width="1.2" />
<line x1="258.9" y1="592.6" x2="258.9" y2="618.6" stroke="#000" stroke-width="1.2" />
<line x1="255.4" y1="592.6" x2="262.4" y2="592.6" stroke="#000" stroke-width="1.2" />
<line x1="255.4" y1="618.6" x2="262.4" y2="618.6" stroke="#000" stroke-width="1.2" />
<circle cx="86" cy="671.25" r="3.55" fill="#000"/>
<circle cx="99.3" cy="663.9" r="3.55" fill="#000"/>
<circle cx="112.6" cy="646.6" r="3.55" fill="#000"/>
<circle cx="125.9" cy="620.7" r="3.55" fill="#000"/>
<circle cx="139.2" cy="599.5" r="3.55" fill="#000"/>
<circle cx="152.5" cy="593.7" r="3.55" fill="#000"/>
<circle cx="165.8" cy="585" r="3.55" fill="#000"/>
<circle cx="179.1" cy="585.3" r="3.55" fill="#000"/>
<circle cx="192.4" cy="588.8" r="3.55" fill="#000"/>
<circle cx="205.7" cy="587.8" r="3.55" fill="#000"/>
<circle cx="219" cy="593" r="3.55" fill="#000"/>
<circle cx="232.3" cy="597.8" r="3.55" fill="#000"/>
<circle cx="245.6" cy="604" r="3.55" fill="#000"/>
<circle cx="258.9" cy="605.8" r="3.55" fill="#000"/>
<circle cx="99.3" cy="670.8" r="3.1" fill="#fff" stroke="#000" stroke-width="1.2"/>
<circle cx="112.6" cy="670.8" r="3.1" fill="#fff" stroke="#000" stroke-width="1.2"/>
<circle cx="125.9" cy="670.5" r="3.1" fill="#fff" stroke="#000" stroke-width="1.2"/>
<circle cx="139.2" cy="670.2" r="3.1" fill="#fff" stroke="#000" stroke-width="1.2"/>
<circle cx="152.5" cy="669.8" r="3.1" fill="#fff" stroke="#000" stroke-width="1.2"/>
<circle cx="165.8" cy="669.2" r="3.1" fill="#fff" stroke="#000" stroke-width="1.2"/>
<circle cx="179.1" cy="668.5" r="3.1" fill="#fff" stroke="#000" stroke-width="1.2"/>
<circle cx="192.4" cy="667.8" r="3.1" fill="#fff" stroke="#000" stroke-width="1.2"/>
<circle cx="205.7" cy="667.1" r="3.1" fill="#fff" stroke="#000" stroke-width="1.2"/>
<circle cx="219" cy="666.4" r="3.1" fill="#fff" stroke="#000" stroke-width="1.2"/>
<circle cx="232.3" cy="665.4" r="3.1" fill="#fff" stroke="#000" stroke-width="1.2"/>
<circle cx="245.6" cy="664.3" r="3.1" fill="#fff" stroke="#000" stroke-width="1.2"/>
<circle cx="258.9" cy="663.2" r="3.1" fill="#fff" stroke="#000" stroke-width="1.2"/>
<line x1="290" y1="616.75" x2="313.3" y2="616.75" stroke="#000" stroke-width="1.2" />
<circle cx="301.75" cy="616.75" r="3.0" fill="#000"/>
<text x="320.4" y="620.6" font-size="11.75">HEK293-<tspan font-family="'Liberation Serif', serif" font-size="14.5" stroke="none">α</tspan>CD3</text>
<line x1="290" y1="640" x2="313.3" y2="640" stroke="#000" stroke-width="1.2" />
<circle cx="301.75" cy="640" r="2.9" fill="#fff" stroke="#000" stroke-width="1.15"/>
<text x="320.4" y="643.9" font-size="11.75">HEK293-<tspan font-family="'Liberation Serif', serif" font-size="14.5" stroke="none">α</tspan>CD3-B7-H3 KO</text>
</svg>
</body></html>
